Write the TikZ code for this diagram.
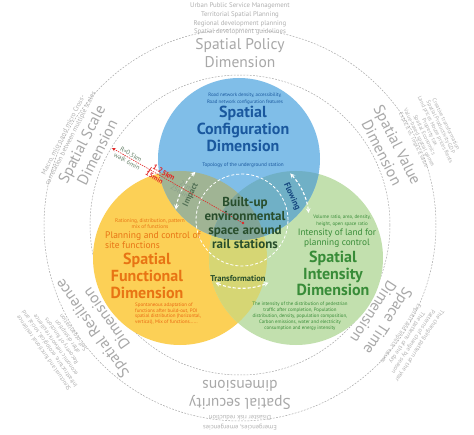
\documentclass[tikz,border=0pt]{standalone}
\usepackage{fontspec}
\setmainfont{PT Sans}
\usepackage{tikz}
\usetikzlibrary{calc,arrows,positioning}
\definecolor{dimgray}{RGB}{168,168,168}
\definecolor{notegray}{RGB}{176,176,176}
\definecolor{venblue}{RGB}{128,190,232}
\definecolor{venyellow}{RGB}{252,208,86}
\definecolor{vengreen}{RGB}{194,224,174}
\definecolor{venby}{RGB}{160,180,148}
\definecolor{venbg}{RGB}{112,176,198}
\definecolor{venyg}{RGB}{214,214,116}
\definecolor{venbyg}{RGB}{128,164,150}
\definecolor{txtblue}{RGB}{26,88,158}
\definecolor{txtorange}{RGB}{232,116,20}
\definecolor{txtgreen}{RGB}{56,140,56}
\definecolor{txtcore}{RGB}{40,78,44}
\definecolor{radred}{RGB}{225,40,40}
\tikzstyle{ring}=[draw=dimgray,line width=0.5pt,dash pattern=on 1.8pt off 1.4pt]
\tikzstyle{dimtitle}=[text=dimgray,inner sep=0pt,align=center,font=\fontsize{15.5}{17.5}\selectfont]
\tikzstyle{dimnote}=[text=notegray,inner sep=0pt,align=center]
\tikzstyle{flowarc}=[white,line width=1.1pt,dash pattern=on 3pt off 2pt,stealth-stealth]
\tikzstyle{flowlabel}=[inner sep=0pt,font=\fontsize{8.5}{8.5}\selectfont\bfseries]
\tikzstyle{radlabel}=[rotate=-30,inner sep=1.5pt,font=\fontsize{6.5}{6.5}\selectfont]

\begin{document}
\begin{tikzpicture}[x=1pt,y=1pt]
\useasboundingbox (-240,-209) rectangle (234,225);
\fill[white] (-240,-209) rectangle (234,225);
% dashed rings
\draw[ring] (0,0) circle (196pt);
\draw[ring] (0,0) circle (150pt);
% venn circles
\coordinate (cb) at (-1,66);
\coordinate (cy) at (-60,-33);
\coordinate (cg) at (56,-33);
\fill[venyellow] (cy) circle (87pt);
\fill[vengreen] (cg) circle (87pt);
\fill[venblue] (cb) circle (81pt);
\begin{scope}
  \clip (cy) circle (87pt);
  \fill[venyg] (cg) circle (87pt);
\end{scope}
\begin{scope}
  \clip (cb) circle (81pt);
  \fill[venby] (cy) circle (87pt);
  \fill[venbg] (cg) circle (87pt);
  \clip (cy) circle (87pt);
  \fill[venbyg] (cg) circle (87pt);
\end{scope}
% core ring and flows
\coordinate (cw) at (2,5);
\draw[white,line width=0.8pt,dash pattern=on 3pt off 2pt] (cw) circle (46pt);
\coordinate (impA) at ($(cw)+(171:67pt)$);
\coordinate (flowA) at ($(cw)+(44:67pt)$);
\coordinate (transA) at ($(cw)+(247:68pt)$);
\draw[flowarc] (impA) arc[start angle=171,end angle=134,radius=67pt];
\draw[flowarc] (flowA) arc[start angle=44,end angle=6,radius=67pt];
\draw[flowarc] (transA) arc[start angle=247,end angle=293,radius=68pt];
\node[flowlabel,text=txtcore!80,rotate=64] (impact) at ($(cw)+(154:57pt)$) {Impact};
\node[flowlabel,text=txtblue!80!black,rotate=-65] (flowing) at ($(cw)+(25:55pt)$) {Flowing};
\node[flowlabel,text=txtcore] (transform) at (-2,-54) {Transformation};
% radius line
\coordinate (rdot) at (3,2);
\coordinate (rend) at (-128,77);
\draw[radred,line width=0.6pt,dash pattern=on 1.5pt off 1pt,-stealth] (rdot) -- (rend);
\fill[radred] (rdot) circle (1.3pt);
\draw[radred,line width=0.7pt] ($(rdot)!0.71!(rend)!3pt!90:(rend)$) -- ($(rdot)!0.71!(rend)!3pt!-90:(rend)$);
\node[radlabel,anchor=south,text=txtcore!70] (r05) at ($(rdot)!0.87!(rend)$) {R=0.5km};
\node[radlabel,anchor=north,text=txtcore!70] (walk6) at ($(rdot)!0.87!(rend)$) {walk 6min};
\node[radlabel,anchor=south,text=radred,font=\fontsize{7.5}{7.5}\selectfont\bfseries] (r125) at ($(rdot)!0.62!(rend)$) {1.25km};
\node[radlabel,anchor=north,text=radred,font=\fontsize{7}{7}\selectfont\bfseries] (walk15) at ($(rdot)!0.66!(rend)$) {15min};
\node[radlabel,anchor=south,text=txtcore!55,font=\fontsize{7}{7}\selectfont] (r2) at ($(rdot)!0.45!(rend)$) {2km};
\node[radlabel,anchor=north,text=txtcore!55,font=\fontsize{7}{7}\selectfont] (walk25) at ($(rdot)!0.47!(rend)$) {25min};
% blue circle texts
\node[inner sep=0pt,align=center,text=txtblue,font=\fontsize{4.9}{7}\selectfont] (confnote) at (5,126.5) {Road network density, accessibility,\\Road network configuration features};
\node[inner sep=0pt,align=center,text=txtblue,font=\fontsize{16}{16.8}\selectfont\bfseries] (conf) at (3,96) {Spatial\\Configuration\\Dimension};
\node[inner sep=0pt,text=txtblue,font=\fontsize{5.2}{7}\selectfont] (topo) at (3,60) {Topology of the underground station};
% yellow circle texts
\node[inner sep=0pt,align=center,text=txtorange,font=\fontsize{5.3}{6.5}\selectfont] (funcnote) at (-90,1.5) {Rationing, distribution, pattern\\mix of functions};
\node[inner sep=0pt,anchor=west,align=left,text=txtorange,font=\fontsize{9.5}{10}\selectfont] (funcplan) at (-135,-15) {Planning and control of\\site functions};
\node[inner sep=0pt,align=center,text=txtorange,font=\fontsize{16}{17}\selectfont\bfseries] (func) at (-93,-51) {Spatial\\Functional\\Dimension};
\node[inner sep=0pt,anchor=west,align=left,text=txtorange!90!red,font=\fontsize{5}{5.5}\selectfont] (funcadapt) at (-105,-89) {Spontaneous adaptation of\\functions after build-out, POI\\spatial distribution (horizontal,\\vertical), Mix of functions......};
% green circle texts
\node[inner sep=0pt,align=center,text=txtgreen,font=\fontsize{5}{7}\selectfont] (intnote) at (102,4) {Volume ratio, area, density,\\height, open space ratio};
\node[inner sep=0pt,align=center,text=txtgreen,font=\fontsize{9.3}{9.8}\selectfont] (intplan) at (97,-13.5) {Intensity of land for\\planning control};
\node[inner sep=0pt,align=center,text=txtgreen,font=\fontsize{16}{16.8}\selectfont\bfseries] (inten) at (93,-48.5) {Spatial\\Intensity\\Dimension};
\node[inner sep=0pt,align=center,text=txtgreen,font=\fontsize{4.9}{6}\selectfont] (intpeople) at (60,-91) {The intensity of the distribution of pedestrian\\traffic after completion, Population\\distribution, density, population composition,\\Carbon emissions, water and electricity\\consumption and energy intensity};
% core
\node[inner sep=0pt,align=center,text=txtcore,font=\fontsize{13}{14.2}\selectfont\bfseries] (core) at (5,2) {Built-up\\environmental\\space around\\rail stations};
% outer dimensions
\node[dimtitle] (policy) at (90:172) {Spatial Policy\\Dimension};
\node[dimnote,font=\fontsize{6.8}{8.8}\selectfont] (policynote) at (90:206) {Urban Public Service Management\\Territorial Spatial Planning\\Regional development planning\\Spatial development guidelines};
\node[dimtitle,rotate=63] (scale) at (153:169) {Spatial Scale\\Dimension};
\node[dimnote,rotate=63,font=\fontsize{6.8}{8}\selectfont] (scalenote) at (153:194) {Macro, micro and micro Cross-\\correlation between multiple scales};
\node[dimtitle,rotate=-63] (value) at (27:168) {Spatial Value\\Dimension};
\node[dimnote,rotate=-64,font=\fontsize{5.6}{6}\selectfont] (valuenote) at (26:211) {Creative transformation\\Spatial Productivity GDP\\Land prices House prices Rents\\Property tax\\Spatial Economics\\Value-based spatial games\\Explicit vs. implicit value};
\node[dimtitle,rotate=180] (security) at (270:170) {Spatial security\\dimensions};
\node[dimnote,rotate=180,font=\fontsize{6.5}{10}\selectfont] (securitynote) at (270:198) {Emergencies, emergencies\\Disaster risk reduction};
\node[dimtitle,rotate=125] (resil) at (215:172) {Spatial Resilience\\Dimension};
\node[dimnote,rotate=125,font=\fontsize{6}{7.2}\selectfont] (resilnote) at (213:216) {Structural and functional resilience\\Infrastructure, ecological, social and\\economic network resilience\\Recovery of functions\\after disruption\\Self-organization};
\node[dimtitle,rotate=-123] (spacetime) at (-33:168) {Space Time\\Dimension};
\node[dimnote,rotate=-123,font=\fontsize{6}{7.5}\selectfont] (timenote) at (-34:205) {The changing pattern of the year\\Patterns of change by season\\The patterns of the day\\Explicit and implicit values};
\end{tikzpicture}
\end{document}
